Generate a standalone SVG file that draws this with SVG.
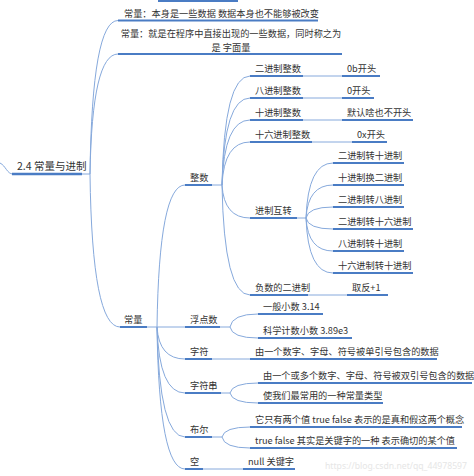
<svg xmlns="http://www.w3.org/2000/svg" width="474" height="476" viewBox="0 0 474 476">
<style>
.t{font-family:"Noto Sans CJK SC","Noto Sans",sans-serif;font-size:9.2px;fill:#333}
.r{font-size:10.5px}
.u{stroke:#4a7cc4;stroke-width:2;fill:none}
.c{fill:none;stroke:#86a9dc;stroke-width:1}
.w{font-family:"Noto Sans",sans-serif;font-size:8.5px;fill:#e6e6e6}
</style>
<rect width="474" height="476" fill="#fff"/>
<g id="connectors">
<path class="c" d="M0 163 C6 166 7 174 13 174"/>
<path class="c" d="M82 174 H90"/>
<path class="c" d="M90 174 Q92 20.5 118 20.5"/>
<path class="c" d="M90 174 Q92 54 118 54"/>
<path class="c" d="M90 174 Q92 327 120 327"/>
<path class="c" d="M147 327 H157"/>
<path class="c" d="M157 327 Q159 185 185 185"/>
<path class="c" d="M157 327 H185"/>
<path class="c" d="M157 327 Q159 359 185 359"/>
<path class="c" d="M157 327 Q159 393 185 393"/>
<path class="c" d="M157 327 Q159 437 185 437"/>
<path class="c" d="M157 327 Q159 469 185 469"/>
<path class="c" d="M212 185 H222"/>
<path class="c" d="M222 185 Q224 76 250 76"/>
<path class="c" d="M222 185 Q224 98 250 98"/>
<path class="c" d="M222 185 Q224 120 250 120"/>
<path class="c" d="M222 185 Q224 142 250 142"/>
<path class="c" d="M222 185 Q224 218 250 218"/>
<path class="c" d="M222 185 Q224 295 250 295"/>
<path class="c" d="M303 76 H342"/>
<path class="c" d="M303 98 H342"/>
<path class="c" d="M303 120 H342"/>
<path class="c" d="M312 142 H352"/>
<path class="c" d="M308 295 H347"/>
<path class="c" d="M297 218 H306"/>
<path class="c" d="M306 218 Q308 163 333 163"/>
<path class="c" d="M306 218 Q308 185 333 185"/>
<path class="c" d="M306 218 Q308 207 333 207"/>
<path class="c" d="M306 218 Q308 229 333 229"/>
<path class="c" d="M306 218 Q308 251 333 251"/>
<path class="c" d="M306 218 Q308 273 333 273"/>
<path class="c" d="M220 327 H230"/>
<path class="c" d="M230 327 Q232 314 258 314"/>
<path class="c" d="M230 327 Q232 338 258 338"/>
<path class="c" d="M212 359 H250"/>
<path class="c" d="M221 393 H230"/>
<path class="c" d="M230 393 Q232 383 258 383"/>
<path class="c" d="M230 393 Q232 403 258 403"/>
<path class="c" d="M212 437 H222"/>
<path class="c" d="M222 437 Q224 427 250 427"/>
<path class="c" d="M222 437 Q224 448 250 448"/>
<path class="c" d="M203 469 H243"/>
</g>
<g id="top-clipped"><path class="u" d="M158 1 H238"/></g>
<g id="root"><text class="t r" x="17" y="170">2.4 常量与进制</text><path class="u" d="M12 174 H82" style="stroke-width:2.5"/></g>
<g id="n-const1"><text class="t" x="124" y="17">常量：本身是一些数据 数据本身也不能够被改变</text><path class="u" d="M118 20.5 H318"/></g>
<g id="n-const2"><text class="t" x="231" y="37" text-anchor="middle">常量：就是在程序中直接出现的一些数据，同时称之为</text><text class="t" x="231" y="50.5" text-anchor="middle">是 字面量</text><path class="u" d="M118 54 H342"/></g>
<g id="n-changliang"><text class="t" x="124" y="323">常量</text><path class="u" d="M120 327 H147"/></g>
<g id="n-int"><text class="t" x="190" y="181">整数</text><path class="u" d="M185 185 H212"/></g>
<g id="n-bin"><text class="t" x="255" y="72">二进制整数</text><path class="u" d="M250 76 H303"/></g>
<g id="n-bin-v"><text class="t" x="347" y="72">0b开头</text><path class="u" d="M342 76 H380"/></g>
<g id="n-oct"><text class="t" x="255" y="94">八进制整数</text><path class="u" d="M250 98 H303"/></g>
<g id="n-oct-v"><text class="t" x="347" y="94">0开头</text><path class="u" d="M342 98 H374"/></g>
<g id="n-dec"><text class="t" x="255" y="116">十进制整数</text><path class="u" d="M250 120 H303"/></g>
<g id="n-dec-v"><text class="t" x="347" y="116">默认啥也不开头</text><path class="u" d="M342 120 H413"/></g>
<g id="n-hex"><text class="t" x="255" y="138">十六进制整数</text><path class="u" d="M250 142 H312"/></g>
<g id="n-hex-v"><text class="t" x="357" y="138">0x开头</text><path class="u" d="M352 142 H387"/></g>
<g id="n-conv"><text class="t" x="255" y="214">进制互转</text><path class="u" d="M250 218 H297"/></g>
<g id="n-c1"><text class="t" x="338" y="159">二进制转十进制</text><path class="u" d="M333 163 H404"/></g>
<g id="n-c2"><text class="t" x="338" y="181">十进制换二进制</text><path class="u" d="M333 185 H404"/></g>
<g id="n-c3"><text class="t" x="338" y="203">二进制转八进制</text><path class="u" d="M333 207 H404"/></g>
<g id="n-c4"><text class="t" x="338" y="225">二进制转十六进制</text><path class="u" d="M333 229 H413"/></g>
<g id="n-c5"><text class="t" x="338" y="247">八进制转十进制</text><path class="u" d="M333 251 H404"/></g>
<g id="n-c6"><text class="t" x="338" y="269">十六进制转十进制</text><path class="u" d="M333 273 H413"/></g>
<g id="n-neg"><text class="t" x="255" y="291">负数的二进制</text><path class="u" d="M250 295 H308"/></g>
<g id="n-neg-v"><text class="t" x="352" y="291">取反+1</text><path class="u" d="M347 295 H388"/></g>
<g id="n-float"><text class="t" x="190" y="323">浮点数</text><path class="u" d="M185 327 H220"/></g>
<g id="n-f1"><text class="t" x="263" y="310">一般小数 3.14</text><path class="u" d="M258 314 H323"/></g>
<g id="n-f2"><text class="t" x="263" y="334">科学计数小数 3.89e3</text><path class="u" d="M258 338 H352"/></g>
<g id="n-char"><text class="t" x="190" y="355">字符</text><path class="u" d="M185 359 H212"/></g>
<g id="n-char-v"><text class="t" x="255" y="355">由一个数字、字母、符号被单引号包含的数据</text><path class="u" d="M250 359 H437"/></g>
<g id="n-str"><text class="t" x="190" y="389">字符串</text><path class="u" d="M185 393 H221"/></g>
<g id="n-s1"><text class="t" x="263" y="379">由一个或多个数字、字母、符号被双引号包含的数据</text><path class="u" d="M258 383 H472"/></g>
<g id="n-s2"><text class="t" x="263" y="399">使我们最常用的一种常量类型</text><path class="u" d="M258 403 H383"/></g>
<g id="n-bool"><text class="t" x="190" y="433">布尔</text><path class="u" d="M185 437 H212"/></g>
<g id="n-b1"><text class="t" x="255" y="423">它只有两个值 true false 表示的是真和假这两个概念</text><path class="u" d="M250 427 H462"/></g>
<g id="n-b2"><text class="t" x="255" y="444">true false  其实是关键字的一种 表示确切的某个值</text><path class="u" d="M250 448 H457"/></g>
<g id="n-null"><text class="t" x="190" y="465">空</text><path class="u" d="M185 469 H203"/></g>
<g id="n-null-v"><text class="t" x="248" y="465">null 关键字</text><path class="u" d="M243 469 H295"/></g>
<text class="w" x="325" y="469" textLength="142" lengthAdjust="spacingAndGlyphs">https://blog.csdn.net/qq_44978597</text>
</svg>
